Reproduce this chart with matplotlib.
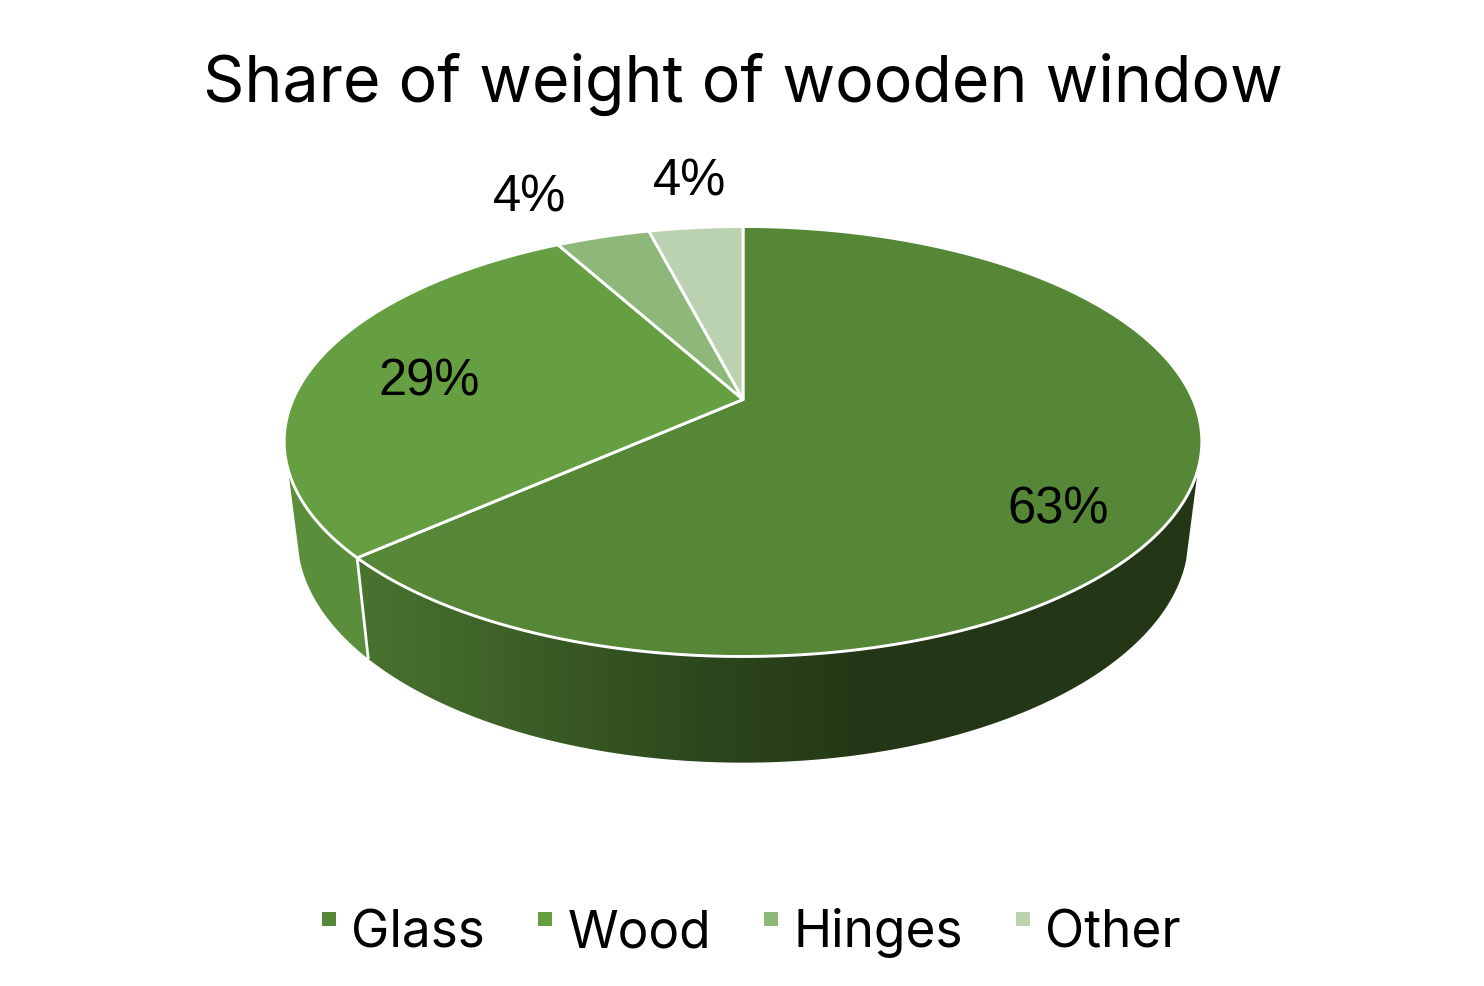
import numpy as np
import matplotlib
matplotlib.use("Agg")
import matplotlib.pyplot as plt
from matplotlib.colors import LinearSegmentedColormap
from matplotlib.legend_handler import HandlerPatch
from matplotlib.patches import Patch, Polygon, Rectangle

TITLE = "Share of weight of wooden window"
categories = ["Glass", "Wood", "Hinges", "Other"]
values = [63.4, 28.6, 4.0, 4.0]
colors = ["#558737", "#669f41", "#8db87a", "#bbd2b0"]
labels = ["63%", "29%", "4%", "4%"]
label_xy = [(1058, 510), (429, 382), (529, 198), (689, 182)]

UI_FONT = "Inter"
W, H = 1484, 987

fig = plt.figure(figsize=(W / 100, H / 100), dpi=100)
ax = fig.add_axes([0, 0, 1, 1])
ax.set_xlim(0, W)
ax.set_ylim(H, 0)
ax.axis("off")


def project(theta, cx, y0, A, B, k):
    """Clockwise angle from 12 o'clock -> pixel on a perspective-tilted disc."""
    u, v = np.sin(theta), np.cos(theta)
    d = 1 + k * v
    return np.column_stack([cx + A * u / d, y0 - B * v / d])


TOP = dict(cx=743, y0=400.5, A=450, B=206.8, k=0.1953)
BOT = dict(cx=743, y0=493.5, A=437, B=217.4, k=0.1953)

fractions = np.array(values) / sum(values)
edges = np.concatenate([[0], np.cumsum(fractions)]) * 2 * np.pi
seam = edges[1]

# --- side wall ---------------------------------------------------------
th_r = np.linspace(np.pi / 2, seam, 300)
th_l = np.linspace(seam, 3 * np.pi / 2, 200)


def wall(th):
    t = project(th, **TOP)
    b = project(th, **BOT)
    return np.vstack([t[t[:, 1] >= 470], b[b[:, 1] >= 560][::-1]])


glass_wall = Polygon(wall(th_r), closed=True, fc="none", ec="none", zorder=1)
wood_wall = Polygon(wall(th_l), closed=True, fc="#5a8e3a", ec="none", zorder=1)
ax.add_patch(glass_wall)
ax.add_patch(wood_wall)

shade = LinearSegmentedColormap.from_list(
    "shade",
    [(0, "#4a7530"), (0.27, "#3f6328"), (0.65, "#2e481d"), (1, "#233616")],
)
img = ax.imshow(
    np.linspace(0, 1, 256)[None, :],
    extent=(345, 880, 780, 440),
    cmap=shade,
    aspect="auto",
    zorder=1,
)
ax.set_xlim(0, W)
ax.set_ylim(H, 0)
img.set_clip_path(glass_wall)
dark = Rectangle((880, 440), 340, 340, fc="#233616", ec="none", zorder=1)
ax.add_patch(dark)
dark.set_clip_path(glass_wall)

seam_line = np.vstack([project(np.array([seam]), **TOP), project(np.array([seam]), **BOT)])
ax.plot(seam_line[:, 0], seam_line[:, 1], color="white", lw=2.0, zorder=2, solid_capstyle="butt")

# --- top face ----------------------------------------------------------
for i, c in enumerate(colors):
    th = np.linspace(edges[i], edges[i + 1], 300)
    pts = np.vstack([[[TOP["cx"], TOP["y0"]]], project(th, **TOP)])
    ax.add_patch(Polygon(pts, closed=True, fc=c, ec="white", lw=2.1, zorder=3, joinstyle="round"))

for (x, y), s in zip(label_xy, labels):
    ax.text(x, y, s, ha="center", va="center", fontsize=36.5,
            family="Liberation Sans", color="black", zorder=5)

ax.text(742.5, 84, TITLE, ha="center", va="center", fontsize=46.4,
        family=UI_FONT, fontweight="normal", color="black")


def square(legend, orig_handle, xdescent, ydescent, width, height, fontsize):
    return Rectangle((xdescent, ydescent + 14.5), 10.1, 10.1)


handles = [Patch(fc=c, ec="none", label=n) for c, n in zip(colors, categories)]
ax.legend(
    handles=handles,
    loc="center",
    bbox_to_anchor=(751.5, 933),
    bbox_transform=ax.transData,
    ncol=4,
    frameon=False,
    borderpad=0,
    borderaxespad=0,
    handlelength=0.27,
    handletextpad=0.29,
    columnspacing=1.04,
    handler_map={Patch: HandlerPatch(patch_func=square)},
    prop={"family": UI_FONT, "size": 37, "weight": "normal"},
)

fig.savefig("out.png", dpi=100, facecolor="white")
